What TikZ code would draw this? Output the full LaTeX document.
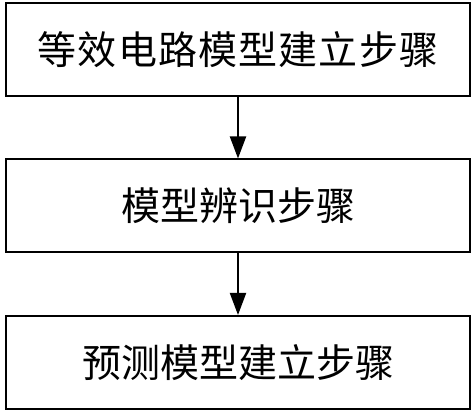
\documentclass[tikz,border=0pt]{standalone}
\usepackage{fontspec}
\newfontfamily\cjk{Noto Sans CJK SC}
\newfontfamily\cjkwide[LetterSpace=3]{Noto Sans CJK SC}
\usetikzlibrary{positioning, arrows.meta}

\begin{document}
\begin{tikzpicture}[x=1pt, y=1pt, node distance=156.5pt, on grid, auto,
    stepbox/.style={draw, line width=2pt, minimum width=464pt, minimum height=93pt,
      inner sep=0pt, font=\fontsize{39}{39}\cjk}]

      \useasboundingbox (0,0) rectangle (474,412);

      % Nodes for the three steps
      \node[stepbox] (model) at (238,362.5) {\cjkwide 等效电路模型建立步骤};
      \node[stepbox] (ident) [below=of model] {模型辨识步骤};
      \node[stepbox] (predict) [below=of ident] {预测模型建立步骤};

      % Edges between the steps
      \path[-{Triangle[length=22pt, width=16pt]}, line width=2pt]
        (model) edge node {} (ident)
        (ident) edge node {} (predict);

\end{tikzpicture}
\end{document}
